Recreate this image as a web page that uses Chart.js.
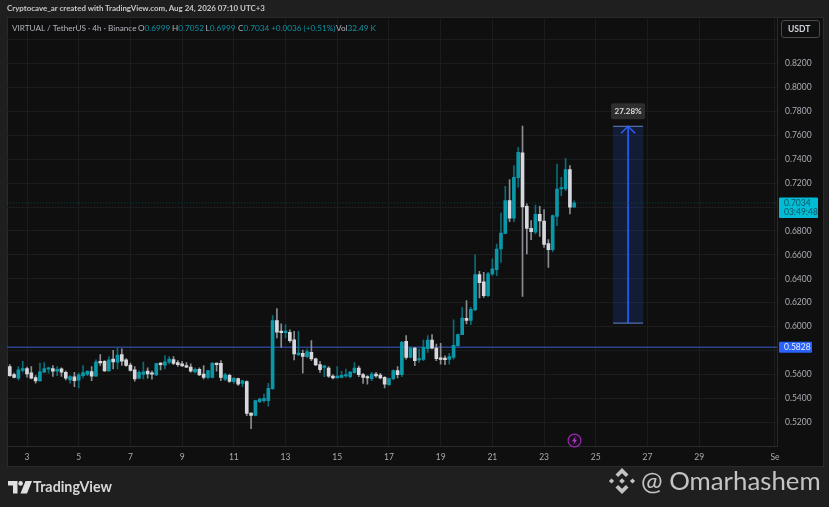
<!DOCTYPE html>
<html>
<head>
<meta charset="utf-8">
<title>VIRTUAL / TetherUS</title>
<script src="https://cdn.jsdelivr.net/npm/chart.js@4"></script>
<style>
  html, body { margin: 0; padding: 0; background: #1f1f1f; overflow: hidden; }
  body { width: 829px; height: 507px; position: relative; font-family: Lato, "Noto Sans", sans-serif; }
  #panel { position: absolute; left: 7px; top: 17px; width: 815px; height: 448px; background: #0f0f0f; border: 1px solid #2a2a2a; box-sizing: content-box; }
  #chart { position: absolute; left: 0; top: 0; }
  .txt { position: absolute; white-space: nowrap; line-height: 1; }
  #credit { left: 7px; top: 5px; font-size: 7.9px; font-weight: 700; color: #c8c8c8; }
  .legend { top: 23.5px; font-size: 8.2px; color: #b0b3bb; }
  .legend b { font-weight: 400; color: #0f93a5; }
  #usdt { left: 781px; top: 20px; width: 39px; height: 18px; box-sizing: border-box; border: 1px solid #4a4a4a; border-radius: 3px; color: #d1d4dc; font-size: 8.5px; font-weight: 700; line-height: 16px; padding-left: 6px; }
  #tvname { left: 33px; top: 480px; font-size: 14.3px; font-weight: 700; color: #d8d8d8; }
  #wm { left: 641px; top: 468px; font-size: 25.8px; color: #c4c4c4; }
  svg { position: absolute; }
</style>
</head>
<body>
<div id="panel"></div>
<canvas id="chart" width="829" height="507"></canvas>

<div class="txt" id="credit">Cryptocave_ar created with TradingView.com, Aug 24, 2026 07:10 UTC+3</div>
<div class="txt legend" style="left:12px">VIRTUAL / TetherUS · 4h · Binance</div>
<div class="txt legend" style="left:138px">O<b>0.6999</b></div>
<div class="txt legend" style="left:172px">H<b>0.7052</b></div>
<div class="txt legend" style="left:205.5px">L<b>0.6999</b></div>
<div class="txt legend" style="left:238px">C<b>0.7034</b></div>
<div class="txt legend" style="left:271px"><b>+0.0036 (+0.51%)</b></div>
<div class="txt legend" style="left:336px">Vol<b>32.49 K</b></div>
<div class="txt" id="usdt">USDT</div>

<svg style="left:8px;top:481px" width="24" height="13" viewBox="0 0 24 13">
  <path d="M0 0h9.5v12.5H5V4.5H0z M12 0h0z" fill="#e0e0e0"/>
  <circle cx="12.6" cy="2.4" r="2.3" fill="#e0e0e0"/>
  <path d="M17.5 0H24l-5 12.5h-6.5z" fill="#e0e0e0"/>
</svg>
<div class="txt" id="tvname">TradingView</div>

<svg style="left:608px;top:467px" width="28" height="28" viewBox="0 0 28 28">
  <g fill="#c4c4c4">
    <path d="M14 1l6.5 6.5-2.6 2.6L14 6.2l-3.9 3.9-2.6-2.6z"/>
    <path d="M14 27l-6.5-6.5 2.6-2.6 3.9 3.9 3.9-3.9 2.6 2.6z"/>
    <path d="M3.5 11.4L6.1 14l-2.6 2.6L.9 14z"/>
    <path d="M24.5 11.4l2.6 2.6-2.6 2.6-2.6-2.6z"/>
    <path d="M14 11.2l2.8 2.8-2.8 2.8-2.8-2.8z"/>
  </g>
</svg>
<div class="txt" id="wm">@ Omarhashem</div>

<svg style="left:567px;top:433px" width="15" height="15" viewBox="0 0 15 15">
  <circle cx="7.5" cy="7.5" r="6.4" fill="#1a0f1e" stroke="#9c27b0" stroke-width="1.2"/>
  <path d="M8.6 3.2L5 8.2h2.2L6.4 11.8 10 6.8H7.8z" fill="#b03cc6"/>
</svg>

<script>
const firstDay = 2.3333;
const candlesPerDay = 6;

const opens = [
  0.5667, 0.5600, 0.5569, 0.5633, 0.5650, 0.5614, 0.5575, 0.5547, 0.5619, 0.5644,
  0.5650, 0.5628, 0.5647, 0.5619, 0.5555, 0.5580, 0.5552, 0.5591, 0.5600, 0.5625,
  0.5586, 0.5706, 0.5709, 0.5630, 0.5728, 0.5703, 0.5767, 0.5722, 0.5678, 0.5639,
  0.5569, 0.5600, 0.5628, 0.5611, 0.5597, 0.5692, 0.5678, 0.5703, 0.5725, 0.5700,
  0.5689, 0.5672, 0.5661, 0.5622, 0.5644, 0.5604, 0.5576, 0.5576, 0.5693, 0.5693,
  0.5560, 0.5593, 0.5540, 0.5565, 0.5526, 0.5540, 0.5278, 0.5258, 0.5373, 0.5381,
  0.5381, 0.5481, 0.6051, 0.5959, 0.5950, 0.5953, 0.5889, 0.5766, 0.5777, 0.5749,
  0.5786, 0.5730, 0.5682, 0.5660, 0.5654, 0.5587, 0.5571, 0.5576, 0.5587, 0.5582,
  0.5615, 0.5654, 0.5599, 0.5582, 0.5565, 0.5604, 0.5596, 0.5576, 0.5515, 0.5565,
  0.5632, 0.5598, 0.5877, 0.5743, 0.5821, 0.5721, 0.5726, 0.5816, 0.5888, 0.5821,
  0.5735, 0.5735, 0.5726, 0.5743, 0.5841, 0.5933, 0.6070, 0.6053, 0.6139, 0.6435,
  0.6374, 0.6259, 0.6441, 0.6476, 0.6649, 0.6780, 0.7054, 0.6906, 0.7246, 0.7453,
  0.7006, 0.6822, 0.6789, 0.6939, 0.6883, 0.6694, 0.6643, 0.6922, 0.7151, 0.7151,
  0.7313, 0.6999
];
const highs = [
  0.5683, 0.5611, 0.5667, 0.5711, 0.5661, 0.5667, 0.5591, 0.5695, 0.5700, 0.5661,
  0.5675, 0.5667, 0.5656, 0.5628, 0.5591, 0.5619, 0.5611, 0.5675, 0.5628, 0.5667,
  0.5722, 0.5767, 0.5717, 0.5750, 0.5801, 0.5823, 0.5815, 0.5734, 0.5695, 0.5667,
  0.5633, 0.5703, 0.5656, 0.5628, 0.5695, 0.5700, 0.5759, 0.5750, 0.5750, 0.5717,
  0.5711, 0.5700, 0.5689, 0.5656, 0.5656, 0.5674, 0.5632, 0.5702, 0.5695, 0.5716,
  0.5610, 0.5604, 0.5576, 0.5571, 0.5554, 0.5548, 0.5280, 0.5387, 0.5403, 0.5437,
  0.5526, 0.6092, 0.6151, 0.6023, 0.6017, 0.5973, 0.5961, 0.5961, 0.5805, 0.5813,
  0.5883, 0.5738, 0.5710, 0.5674, 0.5666, 0.5599, 0.5666, 0.5627, 0.5646, 0.5627,
  0.5699, 0.5671, 0.5610, 0.5590, 0.5618, 0.5618, 0.5610, 0.5582, 0.5571, 0.5638,
  0.5666, 0.5877, 0.5925, 0.5832, 0.5827, 0.5813, 0.5888, 0.5925, 0.5933, 0.5855,
  0.5860, 0.5757, 0.5777, 0.6056, 0.5939, 0.6162, 0.6217, 0.6162, 0.6600, 0.6463,
  0.6455, 0.6455, 0.6566, 0.6691, 0.6950, 0.7174, 0.7229, 0.7347, 0.7500, 0.7676,
  0.7026, 0.6886, 0.7017, 0.7006, 0.6978, 0.6727, 0.6934, 0.7360, 0.7249, 0.7408,
  0.7347, 0.7052
];
const lows = [
  0.5583, 0.5572, 0.5555, 0.5619, 0.5577, 0.5563, 0.5527, 0.5544, 0.5616, 0.5611,
  0.5583, 0.5591, 0.5583, 0.5555, 0.5527, 0.5499, 0.5488, 0.5572, 0.5591, 0.5549,
  0.5583, 0.5675, 0.5625, 0.5628, 0.5647, 0.5647, 0.5675, 0.5667, 0.5628, 0.5544,
  0.5563, 0.5563, 0.5569, 0.5561, 0.5591, 0.5639, 0.5647, 0.5689, 0.5683, 0.5667,
  0.5667, 0.5656, 0.5619, 0.5611, 0.5591, 0.5562, 0.5562, 0.5571, 0.5627, 0.5548,
  0.5548, 0.5534, 0.5526, 0.5509, 0.5498, 0.5255, 0.5147, 0.5253, 0.5364, 0.5367,
  0.5336, 0.5476, 0.5906, 0.5827, 0.5906, 0.5869, 0.5721, 0.5758, 0.5610, 0.5738,
  0.5716, 0.5674, 0.5618, 0.5582, 0.5576, 0.5562, 0.5571, 0.5571, 0.5576, 0.5571,
  0.5610, 0.5582, 0.5526, 0.5520, 0.5548, 0.5576, 0.5562, 0.5487, 0.5509, 0.5554,
  0.5571, 0.5581, 0.5729, 0.5738, 0.5673, 0.5701, 0.5715, 0.5785, 0.5813, 0.5715,
  0.5687, 0.5682, 0.5687, 0.5729, 0.5835, 0.5933, 0.6022, 0.6017, 0.6134, 0.6240,
  0.6245, 0.6251, 0.6427, 0.6426, 0.6537, 0.6775, 0.6878, 0.6878, 0.7165, 0.6253,
  0.6607, 0.6727, 0.6775, 0.6755, 0.6663, 0.6496, 0.6627, 0.6844, 0.7095, 0.7137,
  0.6942, 0.6999
];
const closes = [
  0.5591, 0.5575, 0.5639, 0.5650, 0.5605, 0.5569, 0.5547, 0.5622, 0.5650, 0.5656,
  0.5628, 0.5644, 0.5619, 0.5569, 0.5583, 0.5549, 0.5597, 0.5616, 0.5628, 0.5586,
  0.5703, 0.5697, 0.5630, 0.5722, 0.5706, 0.5762, 0.5711, 0.5675, 0.5633, 0.5563,
  0.5619, 0.5622, 0.5605, 0.5602, 0.5692, 0.5683, 0.5706, 0.5728, 0.5692, 0.5683,
  0.5672, 0.5661, 0.5628, 0.5644, 0.5597, 0.5576, 0.5632, 0.5693, 0.5682, 0.5576,
  0.5599, 0.5543, 0.5568, 0.5520, 0.5548, 0.5275, 0.5258, 0.5381, 0.5395, 0.5400,
  0.5484, 0.6051, 0.5953, 0.5950, 0.5959, 0.5883, 0.5772, 0.5777, 0.5752, 0.5791,
  0.5730, 0.5680, 0.5640, 0.5666, 0.5585, 0.5571, 0.5587, 0.5593, 0.5599, 0.5621,
  0.5654, 0.5599, 0.5576, 0.5571, 0.5604, 0.5587, 0.5571, 0.5520, 0.5565, 0.5632,
  0.5599, 0.5869, 0.5743, 0.5821, 0.5715, 0.5732, 0.5827, 0.5888, 0.5821, 0.5732,
  0.5726, 0.5724, 0.5749, 0.5844, 0.5933, 0.6072, 0.6053, 0.6145, 0.6435, 0.6368,
  0.6259, 0.6441, 0.6483, 0.6649, 0.6783, 0.7054, 0.6906, 0.7249, 0.7458, 0.7001,
  0.6822, 0.6794, 0.6939, 0.6883, 0.6688, 0.6643, 0.6928, 0.7151, 0.7162, 0.7313,
  0.6999, 0.7034
];

const dayTicks = [3, 5, 7, 9, 11, 13, 15, 17, 19, 21, 23, 25, 27, 29, 31.93];
const dayLabels = ['3', '5', '7', '9', '11', '13', '15', '17', '19', '21', '23', '25', '27', '29', 'Se'];
const priceTicks = [0.50, 0.52, 0.54, 0.56, 0.58, 0.60, 0.62, 0.64, 0.66, 0.68, 0.70, 0.72, 0.74, 0.76, 0.78, 0.80, 0.82, 0.84];
const priceLabels = ['', '0.5200', '0.5400', '0.5600', '', '0.6000', '0.6200', '0.6400', '0.6600', '0.6800', '', '0.7200', '0.7400', '0.7600', '0.7800', '0.8000', '0.8200', ''];

const lastPrice = 0.7034;
const countdown = '03:49:48';
const levelPrice = 0.5828;
const measureDay = 26.25;
const measureFrom = 0.6030;
const measureTo = 0.7675;
const measureLabel = '27.28%';

const UP = '#0a97a8';
const DOWN = '#d6d8dd';
const UP_WICK = '#0c6b78';
const DOWN_WICK = '#8b8d92';
const GRID = '#1b1c1e';
const BLUE = '#2962ff';

const candleDays = opens.map((_, i) => firstDay + i / candlesPerDay);
const isUp = opens.map((o, i) => closes[i] >= o);

function roundRect(ctx, x, y, w, h, r) {
  ctx.beginPath();
  ctx.roundRect(x, y, w, h, r);
  ctx.fill();
}

const overlayPlugin = {
  id: 'overlay',
  afterDraw(chart) {
    const { ctx, scales: { x, y }, chartArea } = chart;
    ctx.save();

    // measure tool: end caps, arrow head and percent label
    const mx = x.getPixelForValue(measureDay);
    const top = y.getPixelForValue(measureTo);
    const bottom = y.getPixelForValue(measureFrom);
    ctx.strokeStyle = '#4f6fb0';
    ctx.lineWidth = 1.2;
    ctx.beginPath();
    ctx.moveTo(mx - 15, top);
    ctx.lineTo(mx + 15, top);
    ctx.moveTo(mx - 15, bottom);
    ctx.lineTo(mx + 15, bottom);
    ctx.stroke();
    ctx.strokeStyle = BLUE;
    ctx.lineWidth = 1.4;
    ctx.beginPath();
    ctx.moveTo(mx - 7, top + 7);
    ctx.lineTo(mx, top);
    ctx.lineTo(mx + 7, top + 7);
    ctx.stroke();

    ctx.fillStyle = '#2e2e2e';
    roundRect(ctx, mx - 17, top - 23, 34, 16, 2);
    ctx.fillStyle = '#dcdcdc';
    ctx.font = '700 8px Lato, sans-serif';
    ctx.textAlign = 'center';
    ctx.textBaseline = 'middle';
    ctx.fillText(measureLabel, mx, top - 15);

    // price tags on the right axis
    const tagX = chartArea.right + 2;
    const lastY = y.getPixelForValue(lastPrice);
    ctx.fillStyle = '#00bcd4';
    roundRect(ctx, tagX, lastY - 5.5, 39, 20.5, 1);
    ctx.fillStyle = '#0d5560';
    ctx.font = '8.5px Lato, sans-serif';
    ctx.textAlign = 'left';
    ctx.fillText(lastPrice.toFixed(4), tagX + 5, lastY);
    ctx.fillText(countdown, tagX + 5, lastY + 9.5);

    const levelY = y.getPixelForValue(levelPrice);
    ctx.fillStyle = BLUE;
    roundRect(ctx, tagX, levelY - 5.5, 33, 11, 1);
    ctx.fillStyle = '#e6ecff';
    ctx.fillText(levelPrice.toFixed(4), tagX + 5, levelY + 0.5);

    ctx.restore();
  }
};

new Chart(document.getElementById('chart'), {
  data: {
    datasets: [
      {
        type: 'bar',
        label: 'measure',
        data: [{ x: measureDay, y: [measureFrom, measureTo] }],
        backgroundColor: 'rgba(41, 98, 255, 0.16)',
        barThickness: 30,
        order: 5
      },
      {
        type: 'line',
        label: 'measure line',
        data: [{ x: measureDay, y: measureFrom }, { x: measureDay, y: measureTo }],
        borderColor: BLUE,
        borderWidth: 1.6,
        pointRadius: 0,
        order: 4
      },
      {
        type: 'line',
        label: 'level',
        data: [{ x: 2, y: levelPrice }, { x: 33, y: levelPrice }],
        borderColor: '#2c428f',
        borderWidth: 1.4,
        pointRadius: 0,
        order: 3
      },
      {
        type: 'line',
        label: 'last price',
        data: [{ x: 2, y: lastPrice }, { x: 33, y: lastPrice }],
        borderColor: '#0a4a44',
        borderWidth: 1,
        borderDash: [1, 2],
        pointRadius: 0,
        order: 3
      },
      {
        type: 'bar',
        label: 'wicks',
        data: candleDays.map((d, i) => ({ x: d, y: [lows[i], highs[i]] })),
        backgroundColor: isUp.map((up) => (up ? UP_WICK : DOWN_WICK)),
        barThickness: 1,
        order: 2
      },
      {
        type: 'bar',
        label: 'candles',
        data: candleDays.map((d, i) => ({ x: d, y: [opens[i], closes[i]] })),
        backgroundColor: isUp.map((up) => (up ? UP : DOWN)),
        barThickness: 3,
        minBarLength: 1.5,
        order: 1
      }
    ]
  },
  options: {
    responsive: false,
    animation: false,
    devicePixelRatio: 1,
    layout: { padding: { left: 7, top: 18.5, right: 6, bottom: 40.5 } },
    plugins: { legend: { display: false }, tooltip: { enabled: false } },
    datasets: { bar: { grouped: false } },
    scales: {
      x: {
        type: 'linear',
        offset: false,
        min: 2.226,
        max: 32.01,
        afterBuildTicks(axis) {
          axis.ticks = dayTicks.map((value) => ({ value }));
        },
        afterFit(axis) {
          axis.height = 20;
        },
        grid: { color: GRID, drawTicks: false, offset: false },
        border: { color: '#2a2a2a' },
        ticks: {
          autoSkip: false,
          maxRotation: 0,
          padding: 6,
          color: '#a9acb4',
          font: { family: 'Lato, sans-serif', size: 8.5 },
          callback: (value, i) => dayLabels[i]
        }
      },
      y: {
        position: 'right',
        min: 0.4998,
        max: 0.8576,
        afterBuildTicks(axis) {
          axis.ticks = priceTicks.map((value) => ({ value }));
        },
        afterFit(axis) {
          axis.width = 46;
        },
        grid: { color: GRID, drawTicks: false },
        border: { color: '#2a2a2a' },
        ticks: {
          autoSkip: false,
          padding: 8,
          color: '#a9acb4',
          font: { family: 'Lato, sans-serif', size: 8.5 },
          callback: (value, i) => priceLabels[i]
        }
      }
    }
  },
  plugins: [overlayPlugin]
});
</script>
</body>
</html>
